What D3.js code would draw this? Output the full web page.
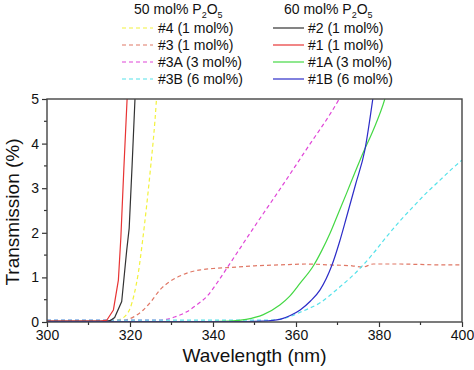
<!DOCTYPE html>
<html>
<head>
<meta charset="utf-8">
<script src="https://cdn.jsdelivr.net/npm/d3@7"></script>
<style>
  body { margin: 0; background: #fff; }
  text { font-family: "Liberation Sans", Arial, sans-serif; fill: #111; }
</style>
</head>
<body>
<div id="chart"></div>
<script>
// transmission spectra: [wavelength nm, transmission %]
var s4  = [[300,0.03],[316,0.03],[317.6,0.06],[319,0.15],[320,0.3],[321,0.62],[322,1.1],[323,1.8],[324,2.6],[325,3.5],[326,4.5],[326.6,5.3]];
var s3  = [[300,0.03],[318,0.03],[319.2,0.05],[321,0.12],[323.2,0.27],[325,0.45],[327.2,0.72],[329.5,0.9],[332,1.03],[334.5,1.12],[337,1.17],[340,1.2],[345.7,1.23],[350,1.26],[356,1.28],[362.6,1.3],[368,1.28],[373.5,1.26],[376,1.23],[378.6,1.3],[385,1.3],[390,1.29],[395,1.28],[400,1.28]];
var s3A = [[300,0.04],[326,0.04],[328.8,0.06],[331,0.12],[333.7,0.23],[336,0.38],[338.5,0.57],[341,0.88],[343.3,1.2],[350,2.14],[356,2.96],[362,3.8],[370.4,5.0],[371,5.1]];
var s3B = [[300,0.04],[352,0.04],[356,0.06],[358.5,0.12],[361,0.22],[363.5,0.32],[365.8,0.43],[368.2,0.6],[370.6,0.79],[373.2,1.0],[375.8,1.24],[378.8,1.56],[381.8,1.91],[385,2.26],[388.3,2.59],[391.5,2.9],[394.7,3.18],[397.3,3.41],[400,3.63]];
var s2  = [[300,0.02],[314,0.02],[315.2,0.03],[316.3,0.1],[318,0.46],[319.2,1.6],[319.8,2.1],[320.5,3.5],[321.2,5.0],[321.5,6]];
var s1  = [[300,0.02],[313,0.02],[314.4,0.04],[316,0.27],[317.2,0.94],[317.8,1.9],[318.5,3.4],[319.3,5.0],[319.6,6]];
var s1A = [[300,0.01],[340,0.01],[344,0.02],[348,0.06],[352,0.16],[356.1,0.38],[358.5,0.58],[361,0.87],[364.2,1.26],[366.2,1.6],[368.2,1.99],[370.2,2.44],[372.2,2.89],[374.2,3.35],[376.2,3.8],[378.6,4.3],[381.4,5.0],[382,5.2]];
var s1B = [[300,0.01],[348,0.01],[352,0.02],[356.1,0.06],[358.5,0.14],[361,0.27],[363.5,0.47],[365.8,0.72],[368.6,1.26],[370.5,1.8],[372.2,2.36],[374.4,3.1],[376.6,3.86],[378.5,5.0],[378.8,5.2]];

var xTicks = [300, 320, 340, 360, 380, 400];
var yTicks = [0, 1, 2, 3, 4, 5];

var series = [
  {name: "#4 (1 mol%)",  data: s4,  color: "#f2f23c", dash: "4,3", col: 0, row: 0, curve: d3.curveMonotoneX},
  {name: "#3 (1 mol%)",  data: s3,  color: "#e07866", dash: "4,3", col: 0, row: 1, curve: d3.curveMonotoneX},
  {name: "#3A (3 mol%)", data: s3A, color: "#e046d8", dash: "4,3", col: 0, row: 2, curve: d3.curveMonotoneX},
  {name: "#3B (6 mol%)", data: s3B, color: "#55e2ea", dash: "4,3", col: 0, row: 3, curve: d3.curveMonotoneX},
  {name: "#2 (1 mol%)",  data: s2,  color: "#333333", dash: null,  col: 1, row: 0, curve: d3.curveLinear},
  {name: "#1 (1 mol%)",  data: s1,  color: "#e83434", dash: null,  col: 1, row: 1, curve: d3.curveLinear},
  {name: "#1A (3 mol%)", data: s1A, color: "#44d844", dash: null,  col: 1, row: 2, curve: d3.curveMonotoneX},
  {name: "#1B (6 mol%)", data: s1B, color: "#2c2cc8", dash: null,  col: 1, row: 3, curve: d3.curveMonotoneX}
];

var svgWidth = 474, svgHeight = 370;
var margin = {top: 99, right: 12, bottom: 48, left: 47};
var width = svgWidth - margin.left - margin.right;
var height = svgHeight - margin.top - margin.bottom;

var svg = d3.select("#chart").append("svg")
  .attr("width", svgWidth)
  .attr("height", svgHeight);

var g = svg.append("g").attr("transform", `translate(${margin.left},${margin.top})`);

var x = d3.scaleLinear().domain([300, 400]).range([0, width]);
var y = d3.scaleLinear().domain([0, 5]).range([height, 0]);

g.append("clipPath").attr("id", "clip")
  .append("rect").attr("width", width).attr("height", height);

// curves
var plot = g.append("g").attr("clip-path", "url(#clip)");
series.forEach(function(s) {
  var line = d3.line().x(d => x(d[0])).y(d => y(d[1])).curve(s.curve);
  plot.append("path")
    .datum(s.data)
    .attr("d", line)
    .attr("fill", "none")
    .attr("stroke", s.color)
    .attr("stroke-width", 1.2)
    .attr("stroke-dasharray", s.dash);
});

// minor ticks
var xMinor = d3.range(310, 400, 20);
var yMinor = d3.range(0.5, 5, 1);
g.selectAll(".xm").data(xMinor).enter().append("line")
  .attr("x1", d => x(d)).attr("x2", d => x(d))
  .attr("y1", height).attr("y2", height + 3)
  .attr("stroke", "#333").attr("stroke-width", 1.2);
g.selectAll(".ym").data(yMinor).enter().append("line")
  .attr("x1", 0).attr("x2", -3)
  .attr("y1", d => y(d)).attr("y2", d => y(d))
  .attr("stroke", "#333").attr("stroke-width", 1.2);

// axes
var xAxis = g.append("g")
  .attr("transform", `translate(0,${height})`)
  .call(d3.axisBottom(x).tickValues(xTicks).tickFormat(d3.format("d")).tickSize(5).tickPadding(3));
var yAxis = g.append("g")
  .call(d3.axisLeft(y).tickValues(yTicks).tickFormat(d3.format("d")).tickSize(5).tickPadding(3));

[xAxis, yAxis].forEach(function(a) {
  a.attr("font-family", null);
  a.select(".domain").remove();
  a.selectAll("line").attr("stroke", "#333").attr("stroke-width", 1.2);
  a.selectAll("text").style("font-size", "14px").attr("fill", "#111");
});

// frame
g.append("rect")
  .attr("width", width).attr("height", height)
  .attr("fill", "none").attr("stroke", "#444").attr("stroke-width", 1.4);

// axis titles
svg.append("text")
  .attr("x", margin.left + width / 2).attr("y", 362)
  .attr("text-anchor", "middle")
  .style("font-size", "19px")
  .text("Wavelength (nm)");

svg.append("text")
  .attr("transform", "translate(19,212) rotate(-90)")
  .attr("text-anchor", "middle")
  .style("font-size", "19px")
  .text("Transmission (%)");

// legend
var legendCols = [
  {title: "50 mol% P", x0: 122, tx: 158, tTitle: 134},
  {title: "60 mol% P", x0: 273, tx: 308, tTitle: 284}
];
legendCols.forEach(function(c) {
  var t = svg.append("text").attr("x", c.tTitle).attr("y", 14).style("font-size", "14px");
  t.append("tspan").text(c.title);
  t.append("tspan").attr("dy", 4).style("font-size", "9px").text("2");
  t.append("tspan").attr("dy", -4).text("O");
  t.append("tspan").attr("dy", 4).style("font-size", "9px").text("5");
});

var rowY = [28, 45, 62, 79];
series.forEach(function(s) {
  var c = legendCols[s.col];
  var yy = rowY[s.row];
  svg.append("line")
    .attr("x1", c.x0).attr("x2", c.x0 + 31)
    .attr("y1", yy).attr("y2", yy)
    .attr("stroke", s.color).attr("stroke-width", 1.2)
    .attr("stroke-dasharray", s.dash);
  svg.append("text")
    .attr("x", c.tx).attr("y", yy + 5)
    .style("font-size", "14px")
    .text(s.name);
});
</script>
</body>
</html>
